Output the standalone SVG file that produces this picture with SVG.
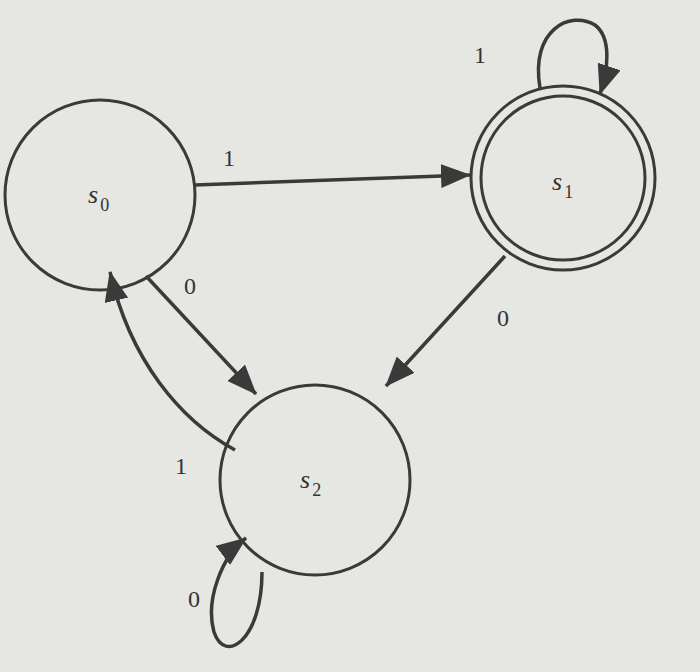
<svg xmlns="http://www.w3.org/2000/svg" width="700" height="672" viewBox="0 0 700 672">
<style>
.st{fill:none;stroke:#3a3a3a;stroke-width:3}
.ed{fill:none;stroke:#3a3a3a;stroke-width:3.5}
.lb{font-family:"Liberation Serif",serif;font-size:24px;fill:#333}
.nm{font-family:"Liberation Serif",serif;font-size:26px;font-style:italic;fill:#333}
.sb{font-family:"Liberation Serif",serif;font-size:18px;font-style:normal;fill:#333}
</style>
<defs>
<marker id="a" viewBox="0 0 30 24" refX="29" refY="12" markerWidth="30" markerHeight="24" markerUnits="userSpaceOnUse" orient="auto">
<path d="M0,0 L30,12 L0,24 z" fill="#3a3a3a"/>
</marker>
</defs>
<rect width="700" height="672" fill="#e6e6e3"/>
<g id="s0"><circle class="st" cx="100" cy="195" r="95"/><text class="nm" x="88" y="203">s<tspan class="sb" dx="2" dy="8">0</tspan></text></g>
<g id="s1"><circle class="st" cx="563" cy="178" r="92"/><circle class="st" cx="563" cy="178" r="82"/><text class="nm" x="552" y="190">s<tspan class="sb" dx="2" dy="8">1</tspan></text></g>
<g id="s2"><circle class="st" cx="315" cy="480" r="95"/><text class="nm" x="300" y="488">s<tspan class="sb" dx="2" dy="8">2</tspan></text></g>
<g id="edges">
<path class="ed" d="M195,185 L470,175" marker-end="url(#a)"/>
<path class="ed" d="M146,276 L256,394" marker-end="url(#a)"/>
<path class="ed" d="M505,256 L386,386" marker-end="url(#a)"/>
<path class="ed" d="M235,450 C180,420 130,360 110,272" marker-end="url(#a)"/>
<path class="ed" d="M540,88 C530,30 570,10 595,25 C612,38 608,70 600,94" marker-end="url(#a)"/>
<path class="ed" d="M262,572 C262,640 225,665 214,632 C205,600 222,556 246,538" marker-end="url(#a)"/>
</g>
<g id="labels">
<text class="lb" x="223" y="166">1</text>
<text class="lb" x="184" y="294">0</text>
<text class="lb" x="497" y="326">0</text>
<text class="lb" x="175" y="474">1</text>
<text class="lb" x="474" y="63">1</text>
<text class="lb" x="188" y="607">0</text>
</g>
</svg>
